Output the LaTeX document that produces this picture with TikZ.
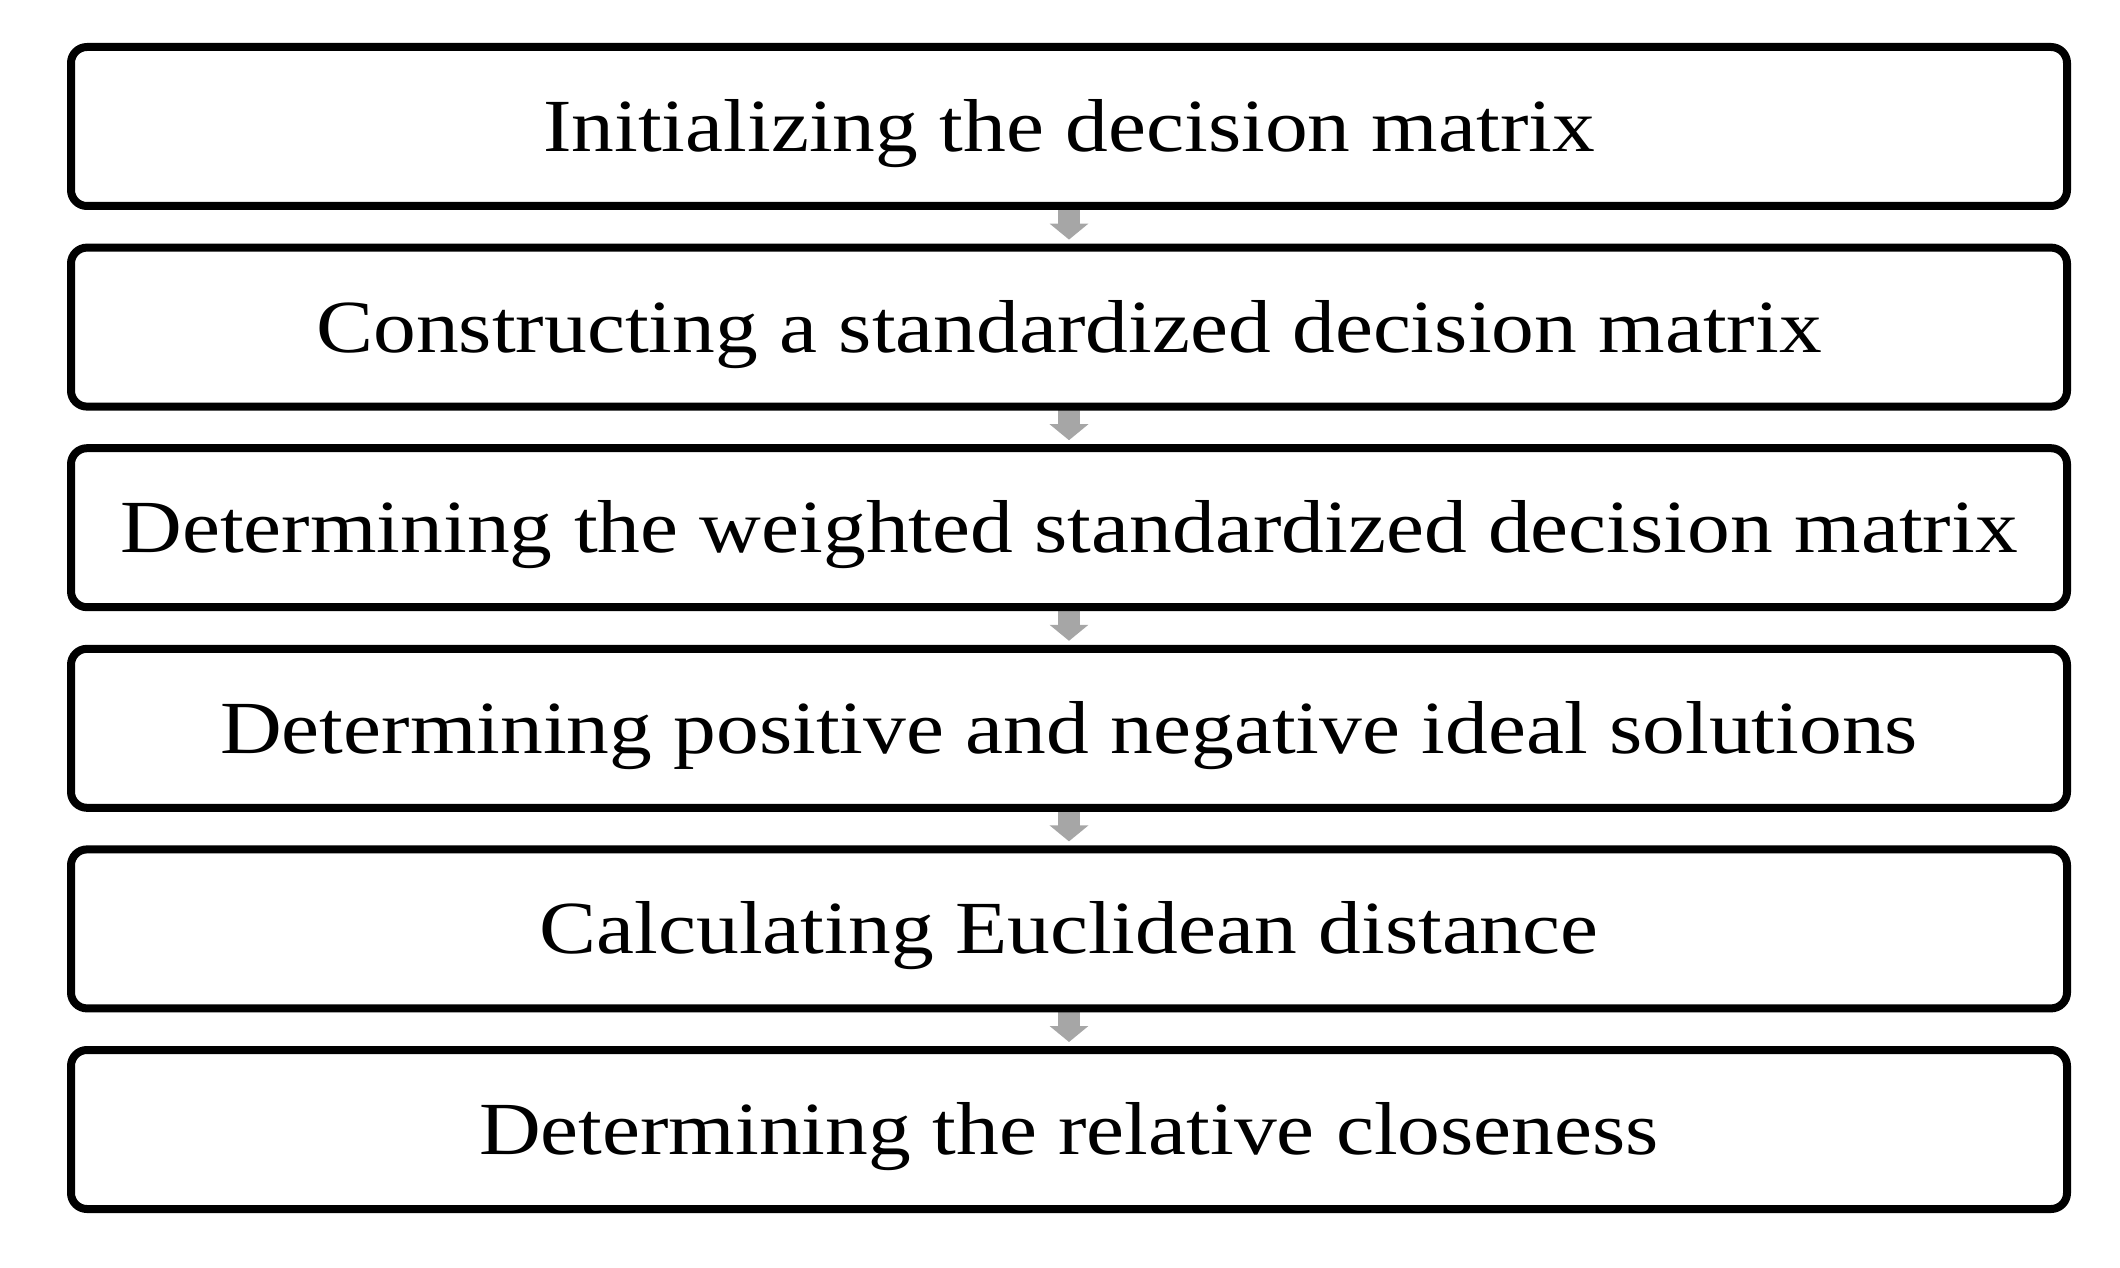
\documentclass[tikz,border=0pt]{standalone}
\usepackage{fontspec}
\setmainfont[FakeStretch=1.14]{Liberation Serif}
\usetikzlibrary{arrows.meta,backgrounds}
\definecolor{arrowgray}{HTML}{A6A6A6}
\begin{document}
\begin{tikzpicture}[x=1pt,y=1pt,
  stepbox/.style={draw=black, line width=8pt, rounded corners=16pt, fill=white,
    minimum width=1996pt, minimum height=159pt, inner sep=0pt,
    text height=50pt, text depth=0pt,
    font=\fontsize{75}{80}\selectfont},
  flow/.style={draw=arrowgray, line width=22pt,
    -{Triangle[width=38pt,length=16pt]}, arrowgray, shorten <=-2pt, shorten >=4pt}]
\useasboundingbox (0,0) rectangle (2120,-1268);
\node[stepbox] (b1) at (1069,-126.5) {Initializing the decision matrix};
\node[stepbox] (b2) at (1069,-327.1) {Constructing a standardized decision matrix};
\node[stepbox] (b3) at (1069,-527.7) {Determining the weighted standardized decision matrix};
\node[stepbox] (b4) at (1069,-728.3) {Determining positive and negative ideal solutions};
\node[stepbox] (b5) at (1069,-928.9) {Calculating Euclidean distance};
\node[stepbox] (b6) at (1069,-1129.5) {Determining the relative closeness};
\begin{scope}[on background layer]
\draw[flow] (b1.south) -- (b2.north);
\draw[flow] (b2.south) -- (b3.north);
\draw[flow] (b3.south) -- (b4.north);
\draw[flow] (b4.south) -- (b5.north);
\draw[flow] (b5.south) -- (b6.north);
\end{scope}
\end{tikzpicture}
\end{document}
